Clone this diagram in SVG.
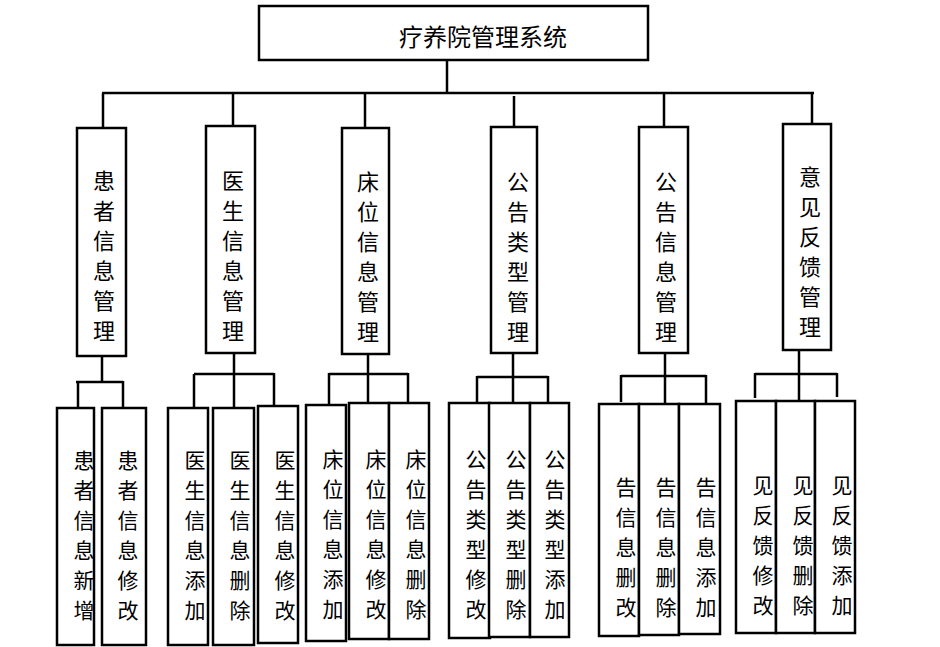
<svg xmlns="http://www.w3.org/2000/svg" width="940" height="647" viewBox="0 0 940 647">
<style>
rect{fill:#fff;stroke:#000;stroke-width:2.5}
#connectors line{stroke:#000;stroke-width:2.5}
text{font-family:"Noto Sans CJK SC","Noto Sans CJK JP",sans-serif;fill:#000;text-anchor:middle}
.l1{font-size:24px}
.l2{font-size:22px}
.l3{font-size:21px}
</style>
<rect x="0" y="0" width="940" height="647" style="stroke:none"/>
<g id="connectors">
<line x1="447" y1="60" x2="447" y2="94"/>
<line x1="102" y1="93" x2="814" y2="93"/>
<line x1="103" y1="93" x2="103" y2="128"/>
<line x1="233" y1="93" x2="233" y2="126"/>
<line x1="365" y1="93" x2="365" y2="128"/>
<line x1="514" y1="96" x2="514" y2="127"/>
<line x1="664" y1="93" x2="664" y2="127"/>
<line x1="812" y1="93" x2="812" y2="124"/>
<!-- group 1 -->
<line x1="102" y1="356" x2="102" y2="382"/>
<line x1="76" y1="382" x2="123" y2="382"/>
<line x1="78" y1="382" x2="78" y2="408"/>
<line x1="123" y1="381" x2="123" y2="408"/>
<!-- group 2 -->
<line x1="234" y1="353" x2="234" y2="408"/>
<line x1="194" y1="374" x2="274" y2="374"/>
<line x1="194" y1="374" x2="194" y2="408"/>
<line x1="274" y1="373" x2="274" y2="406"/>
<!-- group 3 -->
<line x1="368" y1="354" x2="368" y2="403"/>
<line x1="329" y1="374" x2="408" y2="374"/>
<line x1="329" y1="373" x2="329" y2="405"/>
<line x1="408" y1="373" x2="408" y2="403"/>
<!-- group 4 -->
<line x1="513" y1="353" x2="513" y2="402"/>
<line x1="477" y1="377" x2="548" y2="377"/>
<line x1="477" y1="376" x2="477" y2="403"/>
<line x1="548" y1="376" x2="548" y2="403"/>
<!-- group 5 -->
<line x1="665" y1="353" x2="665" y2="403"/>
<line x1="621" y1="376" x2="706" y2="376"/>
<line x1="621" y1="375" x2="621" y2="402"/>
<line x1="706" y1="375" x2="706" y2="403"/>
<!-- group 6 -->
<line x1="799" y1="350" x2="799" y2="401"/>
<line x1="755" y1="374" x2="837" y2="374"/>
<line x1="755" y1="373" x2="755" y2="398"/>
<line x1="837" y1="373" x2="837" y2="397"/>
</g>
<g id="root"><rect x="259" y="6" width="389" height="54"/><text class="l1" x="483" y="46">疗养院管理系统</text></g>
<g id="n1"><rect x="77" y="128" width="49" height="228"/><text class="l2"><tspan x="104" y="189">患</tspan><tspan x="104" dy="30">者</tspan><tspan x="104" dy="30">信</tspan><tspan x="104" dy="30">息</tspan><tspan x="104" dy="30">管</tspan><tspan x="104" dy="30">理</tspan></text></g>
<g id="n2"><rect x="206" y="126" width="49" height="227"/><text class="l2"><tspan x="233" y="189">医</tspan><tspan x="233" dy="30">生</tspan><tspan x="233" dy="30">信</tspan><tspan x="233" dy="30">息</tspan><tspan x="233" dy="30">管</tspan><tspan x="233" dy="30">理</tspan></text></g>
<g id="n3"><rect x="342" y="128" width="47" height="226"/><text class="l2"><tspan x="368" y="190">床</tspan><tspan x="368" dy="30">位</tspan><tspan x="368" dy="30">信</tspan><tspan x="368" dy="30">息</tspan><tspan x="368" dy="30">管</tspan><tspan x="368" dy="30">理</tspan></text></g>
<g id="n4"><rect x="491" y="127" width="46" height="226"/><text class="l2"><tspan x="518" y="190">公</tspan><tspan x="518" dy="30">告</tspan><tspan x="518" dy="30">类</tspan><tspan x="518" dy="30">型</tspan><tspan x="518" dy="30">管</tspan><tspan x="518" dy="30">理</tspan></text></g>
<g id="n5"><rect x="639" y="127" width="49" height="226"/><text class="l2"><tspan x="666" y="190">公</tspan><tspan x="666" dy="30">告</tspan><tspan x="666" dy="30">信</tspan><tspan x="666" dy="30">息</tspan><tspan x="666" dy="30">管</tspan><tspan x="666" dy="30">理</tspan></text></g>
<g id="n6"><rect x="783" y="124" width="48" height="226"/><text class="l2"><tspan x="810" y="185">意</tspan><tspan x="810" dy="30">见</tspan><tspan x="810" dy="30">反</tspan><tspan x="810" dy="30">馈</tspan><tspan x="810" dy="30">管</tspan><tspan x="810" dy="30">理</tspan></text></g>
<g id="n1a"><text class="l3"><tspan x="84" y="468">患</tspan><tspan x="84" dy="30">者</tspan><tspan x="84" dy="30">信</tspan><tspan x="84" dy="30">息</tspan><tspan x="84" dy="30">新</tspan><tspan x="84" dy="30">增</tspan></text><rect x="57" y="408" width="37" height="237" style="fill:none"/></g>
<g id="n1b"><rect x="102" y="408" width="44" height="237"/><text class="l3"><tspan x="128" y="468">患</tspan><tspan x="128" dy="30">者</tspan><tspan x="128" dy="30">信</tspan><tspan x="128" dy="30">息</tspan><tspan x="128" dy="30">修</tspan><tspan x="128" dy="30">改</tspan></text></g>
<g id="n2a"><rect x="168" y="408" width="40" height="237"/><text class="l3"><tspan x="195" y="468">医</tspan><tspan x="195" dy="30">生</tspan><tspan x="195" dy="30">信</tspan><tspan x="195" dy="30">息</tspan><tspan x="195" dy="30">添</tspan><tspan x="195" dy="30">加</tspan></text></g>
<g id="n2b"><rect x="213" y="408" width="41" height="237"/><text class="l3"><tspan x="240" y="468">医</tspan><tspan x="240" dy="30">生</tspan><tspan x="240" dy="30">信</tspan><tspan x="240" dy="30">息</tspan><tspan x="240" dy="30">删</tspan><tspan x="240" dy="30">除</tspan></text></g>
<g id="n2c"><rect x="258" y="406" width="40" height="237"/><text class="l3"><tspan x="285" y="468">医</tspan><tspan x="285" dy="30">生</tspan><tspan x="285" dy="30">信</tspan><tspan x="285" dy="30">息</tspan><tspan x="285" dy="30">修</tspan><tspan x="285" dy="30">改</tspan></text></g>
<g id="n3a"><rect x="306" y="405" width="40" height="236"/><text class="l3"><tspan x="333" y="467">床</tspan><tspan x="333" dy="30">位</tspan><tspan x="333" dy="30">信</tspan><tspan x="333" dy="30">息</tspan><tspan x="333" dy="30">添</tspan><tspan x="333" dy="30">加</tspan></text></g>
<g id="n3b"><rect x="349" y="403" width="40" height="236"/><text class="l3"><tspan x="376" y="467">床</tspan><tspan x="376" dy="30">位</tspan><tspan x="376" dy="30">信</tspan><tspan x="376" dy="30">息</tspan><tspan x="376" dy="30">修</tspan><tspan x="376" dy="30">改</tspan></text></g>
<g id="n3c"><rect x="389" y="403" width="40" height="236"/><text class="l3"><tspan x="416" y="467">床</tspan><tspan x="416" dy="30">位</tspan><tspan x="416" dy="30">信</tspan><tspan x="416" dy="30">息</tspan><tspan x="416" dy="30">删</tspan><tspan x="416" dy="30">除</tspan></text></g>
<g id="n4a"><rect x="449" y="403" width="41" height="235"/><text class="l3"><tspan x="476" y="467">公</tspan><tspan x="476" dy="30">告</tspan><tspan x="476" dy="30">类</tspan><tspan x="476" dy="30">型</tspan><tspan x="476" dy="30">修</tspan><tspan x="476" dy="30">改</tspan></text></g>
<g id="n4b"><rect x="489" y="403" width="41" height="234"/><text class="l3"><tspan x="516" y="467">公</tspan><tspan x="516" dy="30">告</tspan><tspan x="516" dy="30">类</tspan><tspan x="516" dy="30">型</tspan><tspan x="516" dy="30">删</tspan><tspan x="516" dy="30">除</tspan></text></g>
<g id="n4c"><rect x="530" y="403" width="39" height="234"/><text class="l3"><tspan x="555" y="467">公</tspan><tspan x="555" dy="30">告</tspan><tspan x="555" dy="30">类</tspan><tspan x="555" dy="30">型</tspan><tspan x="555" dy="30">添</tspan><tspan x="555" dy="30">加</tspan></text></g>
<g id="n5a"><rect x="599" y="404" width="40" height="232"/><text class="l3"><tspan x="626" y="495">告</tspan><tspan x="626" dy="30">信</tspan><tspan x="626" dy="30">息</tspan><tspan x="626" dy="30">删</tspan><tspan x="626" dy="30">改</tspan></text></g>
<g id="n5b"><rect x="639" y="404" width="40" height="231"/><text class="l3"><tspan x="666" y="495">告</tspan><tspan x="666" dy="30">信</tspan><tspan x="666" dy="30">息</tspan><tspan x="666" dy="30">删</tspan><tspan x="666" dy="30">除</tspan></text></g>
<g id="n5c"><rect x="679" y="404" width="41" height="230"/><text class="l3"><tspan x="706" y="495">告</tspan><tspan x="706" dy="30">信</tspan><tspan x="706" dy="30">息</tspan><tspan x="706" dy="30">添</tspan><tspan x="706" dy="30">加</tspan></text></g>
<g id="n6a"><rect x="736" y="401" width="40" height="232"/><text class="l3"><tspan x="763" y="493">见</tspan><tspan x="763" dy="30">反</tspan><tspan x="763" dy="30">馈</tspan><tspan x="763" dy="30">修</tspan><tspan x="763" dy="30">改</tspan></text></g>
<g id="n6b"><rect x="776" y="401" width="39" height="232"/><text class="l3"><tspan x="803" y="493">见</tspan><tspan x="803" dy="30">反</tspan><tspan x="803" dy="30">馈</tspan><tspan x="803" dy="30">删</tspan><tspan x="803" dy="30">除</tspan></text></g>
<g id="n6c"><rect x="815" y="401" width="40" height="232"/><text class="l3"><tspan x="842" y="493">见</tspan><tspan x="842" dy="30">反</tspan><tspan x="842" dy="30">馈</tspan><tspan x="842" dy="30">添</tspan><tspan x="842" dy="30">加</tspan></text></g>
</svg>
